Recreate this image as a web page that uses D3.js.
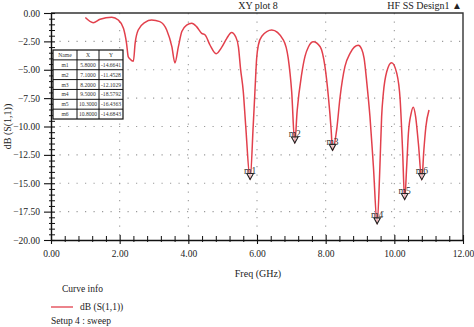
<!DOCTYPE html>
<html>
<head>
<meta charset="utf-8">
<script src="https://cdn.jsdelivr.net/npm/d3@7"></script>
<style>
  html, body { margin: 0; padding: 0; background: #fff; }
  svg { display: block; font-family: "Liberation Serif", "Times New Roman", serif; }
</style>
</head>
<body>
<svg id="chart" width="474" height="327"></svg>
<script>
// S11 sweep, frequency in GHz and return loss in dB
const freq = [1.00, 1.23, 1.43, 1.77, 1.96, 2.11, 2.20, 2.25, 2.30, 2.40, 2.45, 2.54, 2.74, 2.93,
  3.17, 3.37, 3.52, 3.61, 3.71, 3.81, 3.95, 4.10, 4.24, 4.39, 4.49, 4.63, 4.81, 4.97, 5.12,
  5.26, 5.38, 5.46, 5.52, 5.60, 5.67, 5.80, 5.89, 5.94, 5.99, 6.04, 6.14, 6.43, 6.77, 6.91,
  7.01, 7.10, 7.17, 7.30, 7.40, 7.50, 7.64, 7.84, 7.98, 8.08, 8.16, 8.20, 8.32, 8.42, 8.56,
  8.71, 8.95, 9.05, 9.12, 9.20, 9.29, 9.39, 9.50, 9.58, 9.63, 9.68, 9.78, 9.92, 10.07, 10.17,
  10.24, 10.30, 10.36, 10.41, 10.49, 10.55, 10.62, 10.70, 10.80, 10.86, 10.92, 11.01];
const s11 = [-0.40, -0.85, -0.55, -0.38, -0.62, -1.35, -2.67, -3.85, -4.05, -4.25, -2.67, -1.50, -0.82, -0.62,
  -0.76, -1.50, -2.97, -4.40, -2.97, -1.64, -1.06, -0.91, -1.20, -1.79, -1.94, -2.82, -3.58, -3.03, -2.23,
  -1.72, -2.10, -3.00, -4.90, -6.90, -9.90, -14.6641, -9.90, -6.90, -4.00, -2.82, -2.05, -1.50, -2.38, -4.00,
  -6.93, -11.4528, -8.60, -5.40, -3.80, -2.97, -2.53, -2.97, -4.73, -7.40, -10.30, -12.1029, -10.30, -7.40, -4.73,
  -3.56, -2.85, -3.20, -4.00, -6.20, -9.13, -13.50, -18.5792, -13.50, -9.13, -7.07, -5.16, -4.38, -5.30, -7.66,
  -12.07, -16.4363, -13.50, -10.60, -8.84, -8.31, -9.13, -11.48, -14.6843, -12.07, -10.00, -8.55];

// Markers placed on the resonances
const markerNames = ["m1", "m2", "m3", "m4", "m5", "m6"];
const markerX = [5.8, 7.1, 8.2, 9.5, 10.3, 10.8];
const markerY = [-14.6641, -11.4528, -12.1029, -18.5792, -16.4363, -14.6843];

// Axis ticks
const xTicks = [0, 2, 4, 6, 8, 10, 12];
const yTicks = [0, -2.5, -5, -7.5, -10, -12.5, -15, -17.5, -20];
const xMinor = d3.range(0, 31).map(i => i * 0.4).filter(v => Math.abs(v / 2 - Math.round(v / 2)) > 1e-6);
const yMinor = d3.range(0, 41).map(i => -i * 0.5).filter(v => Math.abs(v / 2.5 - Math.round(v / 2.5)) > 1e-6);

const svg = d3.select("#chart");
const x = d3.scaleLinear().domain([0, 12]).range([51, 463]);
const y = d3.scaleLinear().domain([0, -20]).range([13, 240]);
const fmt = d3.format(".2f");
const red = "#e2404c";

// Dotted grid
const grid = svg.append("g").attr("stroke", "#9a9a9a").attr("stroke-width", 1.1)
  .attr("stroke-dasharray", "1.2,7.3");
grid.selectAll(".gx").data(xTicks.slice(1, -1)).join("line")
  .attr("x1", d => x(d)).attr("x2", d => x(d)).attr("y1", y(0)).attr("y2", y(-20));
grid.selectAll(".gy").data(yTicks.slice(1, -1)).join("line")
  .attr("y1", d => y(d)).attr("y2", d => y(d)).attr("x1", x(0)).attr("x2", x(12));

// Frame (top and right)
svg.append("path")
  .attr("d", `M${x(0)},${y(0)}H${x(12)}V${y(-20)}`)
  .attr("fill", "none").attr("stroke", "#333").attr("stroke-width", 1.4);

// Axes with major and minor ticks
function styleAxis(g) {
  g.select(".domain").attr("stroke", "#111").attr("stroke-width", 1.4);
  g.selectAll(".tick line").attr("stroke", "#111").attr("stroke-width", 1.1);
  g.selectAll(".tick text").attr("fill", "#222").attr("font-size", 9.5)
    .attr("font-family", "Liberation Serif, serif");
}
const yAxis = svg.append("g").attr("transform", `translate(${x(0)},0)`)
  .call(d3.axisLeft(y).tickValues(yTicks).tickFormat(fmt).tickSizeInner(7).tickSizeOuter(0).tickPadding(4));
styleAxis(yAxis);
yAxis.selectAll(".tick line").attr("x2", 4).attr("x1", -7);
svg.append("g").attr("transform", `translate(${x(0)},0)`)
  .call(d3.axisLeft(y).tickValues(yMinor).tickFormat("").tickSizeInner(-4).tickSizeOuter(0))
  .call(g => { g.select(".domain").remove(); g.selectAll("line").attr("stroke", "#111").attr("x1", -2); });

const xAxis = svg.append("g").attr("transform", `translate(0,${y(-20)})`)
  .call(d3.axisBottom(x).tickValues(xTicks).tickFormat(fmt).tickSizeInner(4).tickSizeOuter(0).tickPadding(6));
styleAxis(xAxis);
xAxis.selectAll(".tick line").attr("y1", -5).attr("y2", 4);
svg.append("g").attr("transform", `translate(0,${y(-20)})`)
  .call(d3.axisBottom(x).tickValues(xMinor).tickFormat("").tickSizeInner(-4).tickSizeOuter(0))
  .call(g => { g.select(".domain").remove(); g.selectAll("line").attr("stroke", "#111").attr("y1", 2); });

// Curve
const pts = freq.map((f, i) => [f, s11[i]]);
svg.append("path").datum(pts)
  .attr("fill", "none").attr("stroke", red).attr("stroke-width", 1.5)
  .attr("d", d3.line().x(d => x(d[0])).y(d => y(d[1])).curve(d3.curveMonotoneX));

// Marker triangles and labels
const mk = svg.append("g").selectAll("g").data(markerNames).join("g")
  .attr("transform", (d, i) => `translate(${x(markerX[i])},${y(markerY[i])})`);
mk.append("path").attr("d", "M0,0L-3.3,-6L3.3,-6Z")
  .attr("fill", "#fff").attr("fill-opacity", 0.6).attr("stroke", "#222").attr("stroke-width", 1.1);
mk.append("text").text(d => d).attr("x", 0).attr("y", -5.5)
  .attr("text-anchor", "middle").attr("font-size", 9.5).attr("fill", "#333");

// Marker table
const tbl = svg.append("g");
const colX = [53, 77, 99, 123];
const rowH = 9.86, tblTop = 50;
const rows = [["Name", "X", "Y"]].concat(markerNames.map((n, i) => [n, d3.format(".4f")(markerX[i]), d3.format(".4f")(markerY[i]).replace("\u2212", "-")]));
tbl.append("rect").attr("x", colX[0]).attr("y", tblTop).attr("width", colX[3] - colX[0]).attr("height", rowH * rows.length)
  .attr("fill", "#fff").attr("stroke", "#111").attr("stroke-width", 1.2);
rows.forEach((r, ri) => {
  if (ri > 0) tbl.append("line").attr("x1", colX[0]).attr("x2", colX[3])
    .attr("y1", tblTop + ri * rowH).attr("y2", tblTop + ri * rowH).attr("stroke", "#111").attr("stroke-width", 1);
  r.forEach((c, ci) => {
    tbl.append("text").text(c)
      .attr("x", (colX[ci] + colX[ci + 1]) / 2).attr("y", tblTop + ri * rowH + rowH / 2 + 2)
      .attr("text-anchor", "middle").attr("font-size", 5.6).attr("fill", "#333");
  });
});
[1, 2].forEach(ci => tbl.append("line").attr("x1", colX[ci]).attr("x2", colX[ci])
  .attr("y1", tblTop).attr("y2", tblTop + rowH * rows.length).attr("stroke", "#111").attr("stroke-width", 1));

// Titles
svg.append("text").text("XY plot 8").attr("x", 258).attr("y", 9)
  .attr("text-anchor", "middle").attr("font-size", 10).attr("fill", "#222");
svg.append("text").text("HF SS Design1 \u25B2").attr("x", 462).attr("y", 9)
  .attr("text-anchor", "end").attr("font-size", 10).attr("fill", "#222");
svg.append("text").text("Freq (GHz)").attr("x", 258).attr("y", 277)
  .attr("text-anchor", "middle").attr("font-size", 10).attr("fill", "#222");
svg.append("text").text("dB (S(1,1))")
  .attr("transform", `translate(11,${(y(0) + y(-20)) / 2}) rotate(-90)`)
  .attr("text-anchor", "middle").attr("font-size", 10).attr("fill", "#222");

// Curve info legend
svg.append("text").text("Curve info").attr("x", 62).attr("y", 292).attr("font-size", 9.5).attr("fill", "#222");
svg.append("line").attr("x1", 51).attr("x2", 73).attr("y1", 307).attr("y2", 307)
  .attr("stroke", red).attr("stroke-width", 1.3);
svg.append("text").text("dB (S(1,1))").attr("x", 80).attr("y", 310).attr("font-size", 9.5).attr("fill", "#222");
svg.append("text").text("Setup 4 : sweep").attr("x", 51).attr("y", 324).attr("font-size", 9.5).attr("fill", "#222");
</script>
</body>
</html>
